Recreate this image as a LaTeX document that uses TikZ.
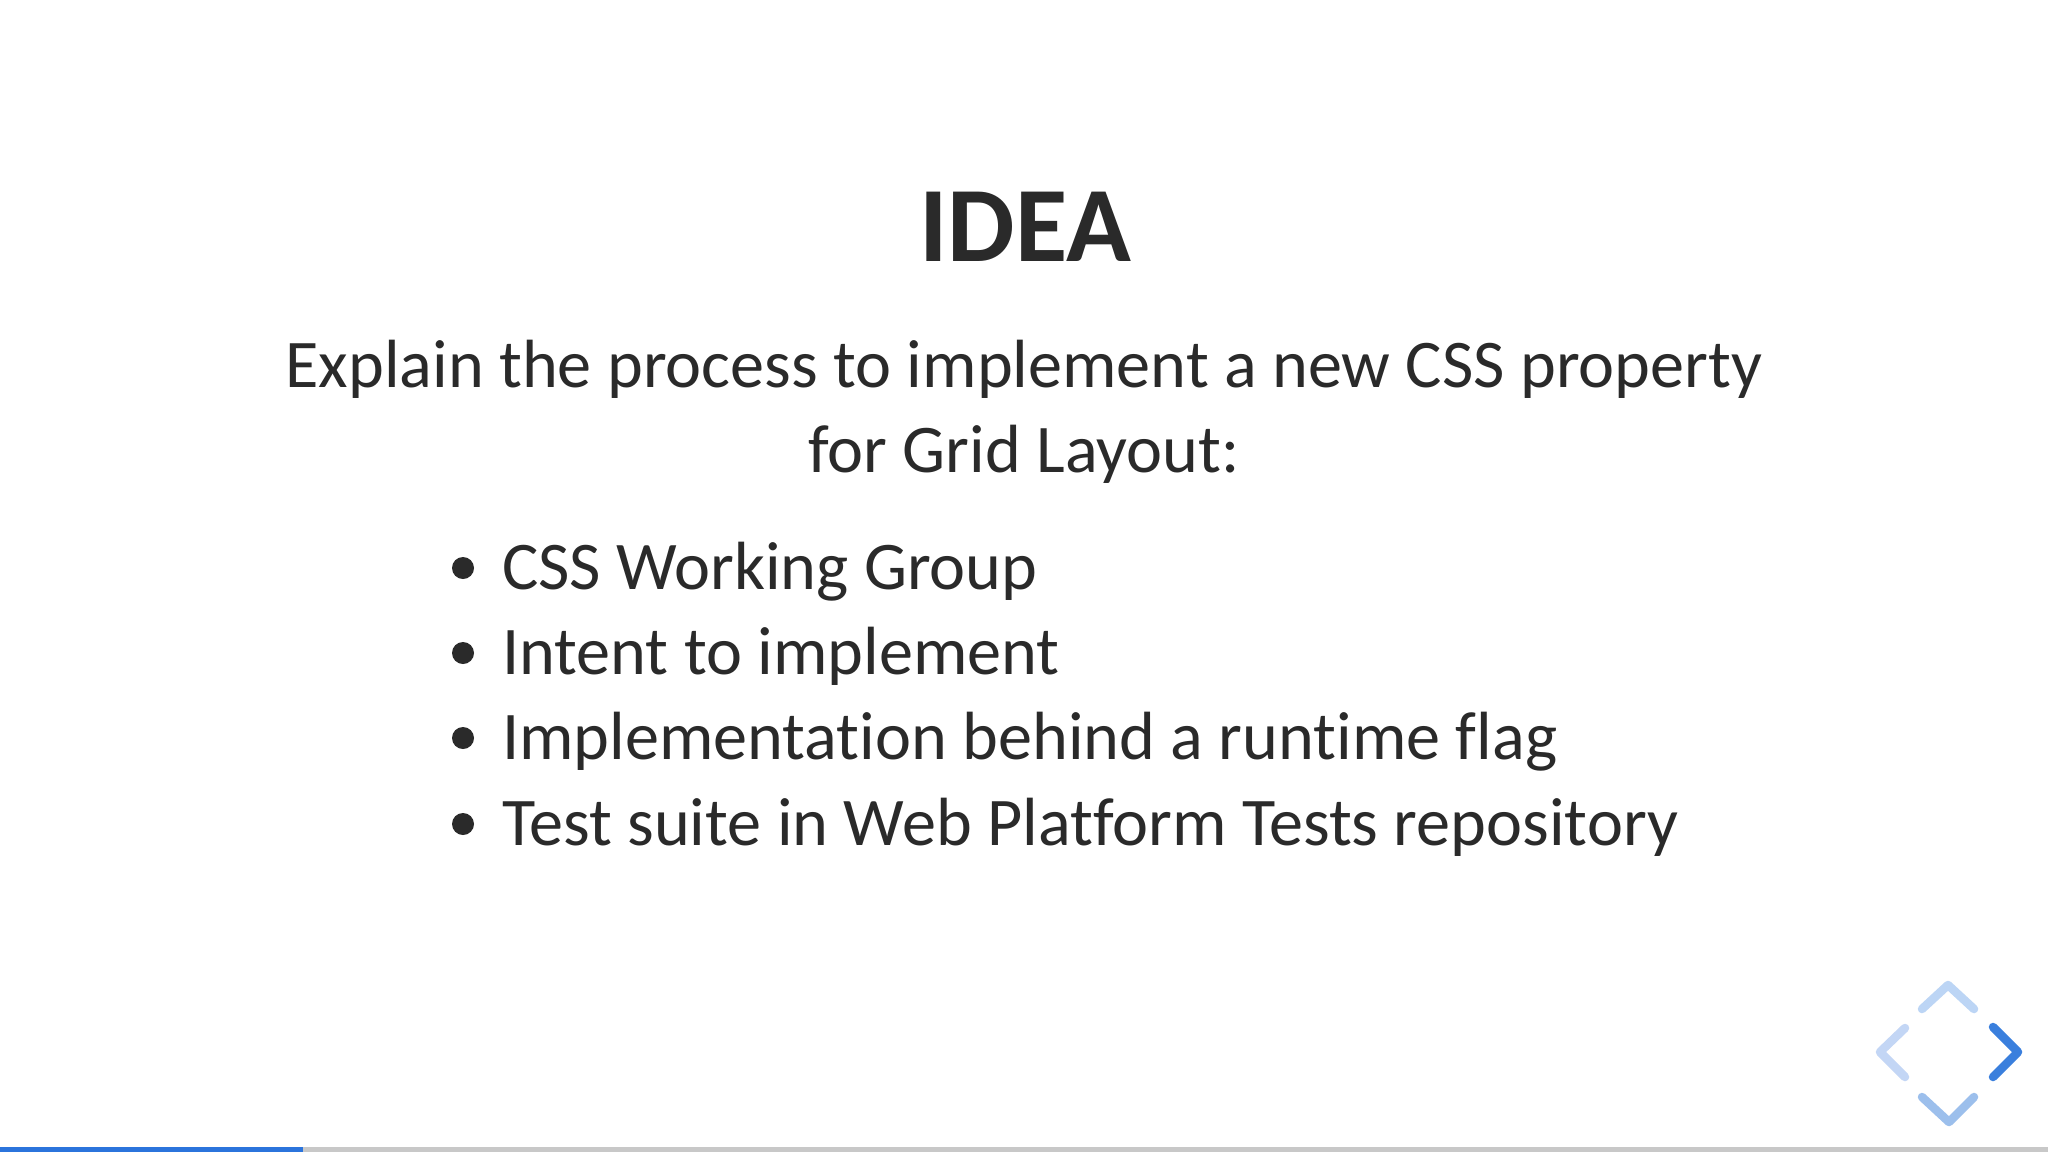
\documentclass[tikz,border=0pt]{standalone}
\usepackage{fontspec}
\setmainfont[Ligatures=NoCommon]{Carlito}
\definecolor{ink}{HTML}{2A2A2A}
\definecolor{navblue}{HTML}{3A7FDD}
\definecolor{navtop}{HTML}{BCD5F5}
\definecolor{navleft}{HTML}{C3D6F5}
\definecolor{navbottom}{HTML}{9CBFEC}
\definecolor{barblue}{HTML}{2B74DC}
\definecolor{track}{HTML}{C8C8C8}
\tikzset{x=1pt,y=-1pt,
  body/.style={inner sep=0pt,anchor=base west,text=ink,font=\fontsize{68.2}{68.2}\selectfont},
  centred/.style={inner sep=0pt,anchor=base,text=ink,font=\fontsize{68.2}{68.2}\selectfont},
  dot/.style={circle,fill=ink,inner sep=0pt,minimum size=22},
  nav/.style={line width=8.5,line cap=round,line join=round}}
\begin{document}
\begin{tikzpicture}
\useasboundingbox[fill=white] (0,0) rectangle (2048,1152);
\node[inner sep=0pt,anchor=base,text=ink,font=\fontsize{107}{107}\selectfont\bfseries] (title) at (1025,261) {IDEA};
\node[centred] (l1) at (1024,387) {Explain the process to implement a new CSS property};
\node[centred] (l2) at (1024,472) {for Grid Layout:};
\node[dot] (d1) at (463,568) {};
\node[dot] (d2) at (463,653) {};
\node[dot] (d3) at (463,738) {};
\node[dot] (d4) at (463,824) {};
\node[body] (i1) at (502,589) {CSS Working Group};
\node[body] (i2) at (502,674) {Intent to implement};
\node[body] (i3) at (502,759) {Implementation behind a runtime flag};
\node[body] (i4) at (502,845) {Test suite in Web Platform Tests repository};
\fill[track] (0,1147) rectangle (2048,1152);
\fill[barblue] (0,1147) rectangle (303,1152);
\draw[nav,navtop] (1922,1009) -- (1948,985) -- (1974,1009);
\draw[nav,navbottom] (1922,1097) -- (1949,1122) -- (1974,1097);
\draw[nav,navleft] (1905,1028) -- (1880,1052) -- (1905,1077);
\draw[nav,navblue] (1993,1027) -- (2018,1052) -- (1993,1077);
\end{tikzpicture}
\end{document}
